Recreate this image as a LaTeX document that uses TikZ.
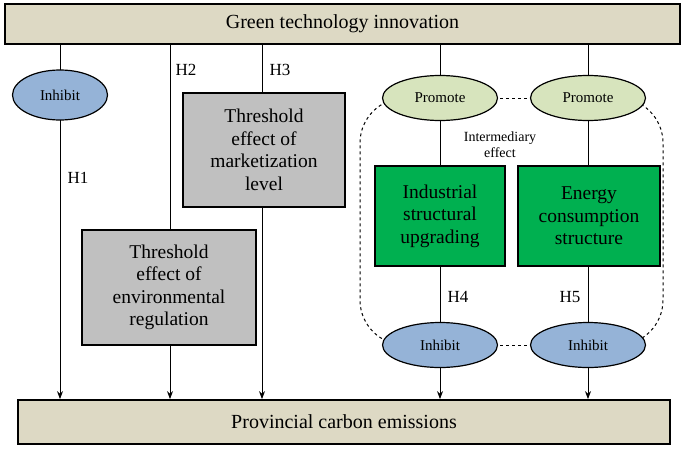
\documentclass[tikz,border=0pt]{standalone}
\usepackage{fontspec}
\setmainfont{Liberation Serif}
\usetikzlibrary{shapes.geometric,arrows.meta}
\definecolor{beige}{HTML}{DDD9C4}
\definecolor{ltblue}{HTML}{95B3D7}
\definecolor{ltgreen}{HTML}{D7E4BD}
\definecolor{grn}{HTML}{00B050}
\definecolor{gry}{HTML}{C0C0C0}
\begin{document}
\begin{tikzpicture}[x=1pt,y=-1pt,
  bar/.style={draw,line width=1.8pt,fill=beige,font=\fontsize{20}{23}\selectfont},
  ell/.style={ellipse,draw,line width=1.2pt,minimum width=95pt,minimum height=50pt,inner sep=0pt,font=\fontsize{15}{17}\selectfont},
  gbox/.style={draw,line width=1.8pt,fill=gry,align=center,inner sep=2pt,font=\fontsize{19.5}{22.5}\selectfont},
  ggbox/.style={draw,line width=1.8pt,fill=grn,align=center,inner sep=2pt,font=\fontsize{19.5}{22.5}\selectfont},
  lbl/.style={font=\fontsize{17}{20}\selectfont},
  arr/.style={-{Stealth[length=8pt]}},
  ln/.style={line width=1pt}]
\useasboundingbox (0,0) rectangle (685,450);
\node[bar,minimum width=675pt,minimum height=40pt] (top) at (342.5,24) {Green technology innovation};
\node[bar,minimum width=652pt,minimum height=44pt] (bot) at (344,422) {Provincial carbon emissions};
\coordinate (c2) at (170,0);
\coordinate (c3) at (262,0);
\draw[ln] (top.south -| 60,0) -- (60,70) coordinate (i1t);
\draw[ln,arr] (60,120) -- (bot.north -| 60,0);
\draw[ln,arr] (top.south -| c2) -- (bot.north -| c2);
\draw[ln,arr] (top.south -| c3) -- (bot.north -| c3);
\draw[ln] (top.south -| 440,0) -- (440,380);
\draw[ln,arr] (440,360) -- (bot.north -| 440,0);
\draw[ln] (top.south -| 588,0) -- (588,380);
\draw[ln,arr] (588,360) -- (bot.north -| 588,0);
\draw[ln,dashed,rounded corners=45pt] (440,98) -- (360,98) -- (360,345) -- (440,345);
\draw[ln,dashed,rounded corners=45pt] (588,98) -- (663,98) -- (663,345) -- (588,345);
\draw[ln,dashed] (440,98) -- (588,98);
\draw[ln,dashed] (440,345) -- (588,345);
\node[ell,fill=ltblue] (i1) at (60,95) {Inhibit};
\node[gbox,minimum width=174pt,minimum height=115pt] (er) at (169,287.5) {Threshold\\effect of\\environmental\\regulation};
\node[gbox,minimum width=162pt,minimum height=114pt] (ml) at (264,150) {Threshold\\effect of\\marketization\\level};
\node[ell,fill=ltgreen,minimum width=115pt,minimum height=45pt] (p1) at (440,98) {Promote};
\node[ell,fill=ltgreen,minimum width=115pt,minimum height=45pt] (p2) at (588,98) {Promote};
\node[ggbox,minimum width=130pt,minimum height=100pt] (g1) at (440,216) {Industrial\\structural\\upgrading};
\node[ggbox,minimum width=142pt,minimum height=100pt] (g2) at (589,216) {Energy\\consumption\\structure};
\node[ell,fill=ltblue,minimum width=115pt,minimum height=45pt] (n1) at (440,345) {Inhibit};
\node[ell,fill=ltblue,minimum width=115pt,minimum height=45pt] (n2) at (588,345) {Inhibit};
\node[lbl] (h1) at (78,178) {H1};
\node[lbl] (h2) at (186,70) {H2};
\node[lbl] (h3) at (280,70) {H3};
\node[lbl] (h4) at (458,297) {H4};
\node[lbl] (h5) at (570,297) {H5};
\node[align=center,font=\fontsize{14}{16}\selectfont] (ie) at (500,145) {Intermediary\\effect};
\end{tikzpicture}
\end{document}
